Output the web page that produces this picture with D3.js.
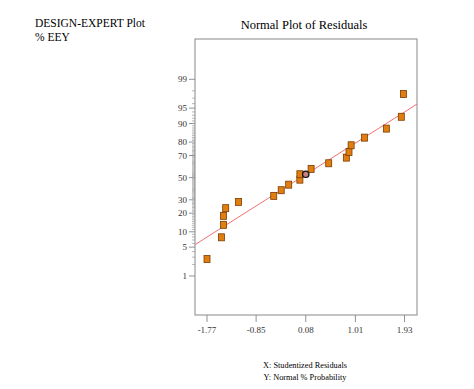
<!DOCTYPE html>
<html>
<head>
<meta charset="utf-8">
<script src="https://cdn.jsdelivr.net/npm/d3@7"></script>
<style>
  body { margin: 0; background: #fff; }
  text { font-family: "Liberation Serif", "DejaVu Serif", serif; }
</style>
</head>
<body>
<svg width="474" height="389"></svg>
<script>
// data
const residuals = [-1.77, -1.50, -1.46, -1.46, -1.42, -1.18, -0.52, -0.38, -0.24, -0.03,
                   -0.03, 0.18, 0.51, 0.84, 0.89, 0.93, 1.18, 1.59, 1.87, 1.91];
const probs = [2.7, 7.9, 13.2, 18.3, 23.5, 28.3, 33.3, 38.3, 43.4, 48.1,
               53.2, 58.2, 63.3, 68.2, 72.8, 77.8, 82.8, 87.7, 92.5, 97.6];
const highlight = [{ x: 0.08, p: 53.2 }];
const xTicks = [-1.77, -0.85, 0.08, 1.01, 1.93];
const yTicks = [1, 5, 10, 20, 30, 50, 70, 80, 90, 95, 99];
const fitMean = -0.012, fitSd = 1.25;

const svg = d3.select("svg");

// inverse normal cdf (Acklam)
function probit(p) {
  const a = [-39.69683028665376, 220.9460984245205, -275.9285104469687, 138.357751867269, -30.66479806614716, 2.506628277459239];
  const b = [-54.47609879822406, 161.5858368580409, -155.6989798598866, 66.80131188771972, -13.28068155288572];
  const c = [-0.007784894002430293, -0.3223964580411365, -2.400758277161838, -2.549732539343734, 4.374664141464968, 2.938163982698783];
  const d = [0.007784695709041462, 0.3224671290700398, 2.445134137142996, 3.754408661907416];
  const pl = 0.02425;
  let q, r;
  if (p < pl) {
    q = Math.sqrt(-2 * Math.log(p));
    return (((((c[0]*q+c[1])*q+c[2])*q+c[3])*q+c[4])*q+c[5]) / ((((d[0]*q+d[1])*q+d[2])*q+d[3])*q+1);
  } else if (p <= 1 - pl) {
    q = p - 0.5; r = q * q;
    return (((((a[0]*r+a[1])*r+a[2])*r+a[3])*r+a[4])*r+a[5])*q / (((((b[0]*r+b[1])*r+b[2])*r+b[3])*r+b[4])*r+1);
  }
  q = Math.sqrt(-2 * Math.log(1 - p));
  return -(((((c[0]*q+c[1])*q+c[2])*q+c[3])*q+c[4])*q+c[5]) / ((((d[0]*q+d[1])*q+d[2])*q+d[3])*q+1);
}

const pLeft = 195, pRight = 417, pTop = 39, pBottom = 315;
const x = d3.scaleLinear().domain([-1.995, 2.164]).range([pLeft, pRight]);
const z = d3.scaleLinear().domain([-3.25, 3.28]).range([pBottom, pTop]);
const y = p => z(probit(p / 100));

// texts
svg.append("text").attr("x", 35).attr("y", 27).attr("font-size", 11.5).text("DESIGN-EXPERT Plot");
svg.append("text").attr("x", 35).attr("y", 41).attr("font-size", 11.5).text("% EEY");
svg.append("text").attr("x", 304).attr("y", 29).attr("text-anchor", "middle")
  .attr("font-size", 12.5).text("Normal Plot of Residuals");
svg.append("text").attr("x", 305).attr("y", 368).attr("text-anchor", "middle")
  .attr("font-size", 8.3).text("X: Studentized Residuals");
svg.append("text").attr("x", 305).attr("y", 380).attr("text-anchor", "middle")
  .attr("font-size", 8.3).text("Y: Normal % Probability");

// clip for fit line
svg.append("defs").append("clipPath").attr("id", "plotclip")
  .append("rect").attr("x", pLeft).attr("y", pTop).attr("width", pRight - pLeft).attr("height", pBottom - pTop);

// y minor ticks every percent
const minor = d3.range(1, 100).filter(v => !yTicks.includes(v));
svg.append("g").selectAll("line").data(minor).join("line")
  .attr("x1", pLeft - 3).attr("x2", pLeft)
  .attr("y1", d => y(d)).attr("y2", d => y(d))
  .attr("stroke", "#999").attr("stroke-width", 0.7);

const yg = svg.append("g");
yg.selectAll("line").data(yTicks).join("line")
  .attr("x1", pLeft - 6).attr("x2", pLeft)
  .attr("y1", d => y(d)).attr("y2", d => y(d))
  .attr("stroke", "#777").attr("stroke-width", 0.8);
yg.selectAll("text").data(yTicks).join("text")
  .attr("x", pLeft - 8).attr("y", d => y(d)).attr("dy", "0.35em")
  .attr("text-anchor", "end").attr("font-size", 9).attr("fill", "#333")
  .text(d => d);

// x axis
const xg = svg.append("g");
xg.selectAll("line").data(xTicks).join("line")
  .attr("x1", d => x(d)).attr("x2", d => x(d))
  .attr("y1", pBottom).attr("y2", pBottom + 7)
  .attr("stroke", "#777").attr("stroke-width", 0.8);
xg.selectAll("text").data(xTicks).join("text")
  .attr("x", d => x(d)).attr("y", 333)
  .attr("text-anchor", "middle").attr("font-size", 9).attr("fill", "#333")
  .text(d => d.toFixed(2));

// frame
svg.append("rect").attr("x", pLeft).attr("y", pTop)
  .attr("width", pRight - pLeft).attr("height", pBottom - pTop)
  .attr("fill", "none").attr("stroke", "#888").attr("stroke-width", 1);

// fit line
const xd = x.domain();
svg.append("line")
  .attr("clip-path", "url(#plotclip)")
  .attr("x1", x(xd[0])).attr("y1", z((xd[0] - fitMean) / fitSd))
  .attr("x2", x(xd[1])).attr("y2", z((xd[1] - fitMean) / fitSd))
  .attr("stroke", "#f07070").attr("stroke-width", 1);

// points
svg.append("g").selectAll("rect").data(residuals).join("rect")
  .attr("x", d => x(d) - 3).attr("y", (d, i) => y(probs[i]) - 3.5)
  .attr("width", 6).attr("height", 7)
  .attr("fill", "#e07f10").attr("stroke", "#7a3a00").attr("stroke-width", 0.8);

svg.append("g").selectAll("circle").data(highlight).join("circle")
  .attr("cx", d => x(d.x)).attr("cy", d => y(d.p)).attr("r", 3.2)
  .attr("fill", "#c88080").attr("stroke", "#111").attr("stroke-width", 1.3);
</script>
</body>
</html>
